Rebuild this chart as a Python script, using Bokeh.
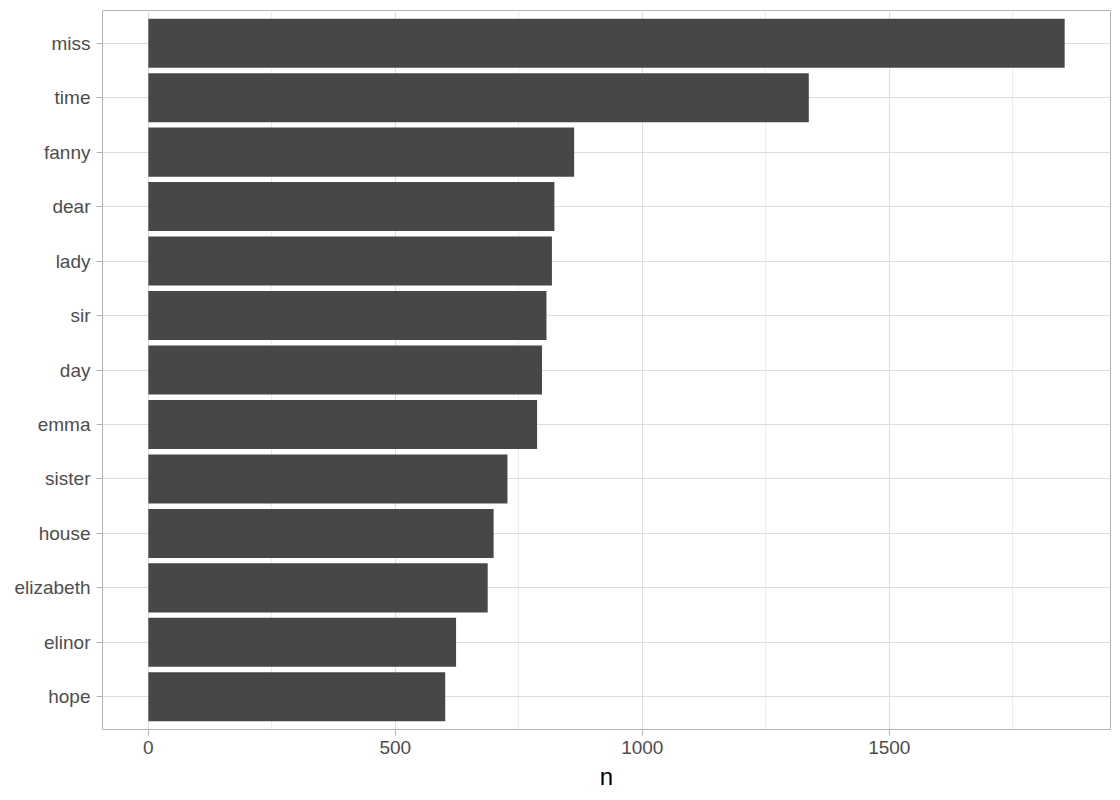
from bokeh.plotting import figure
from bokeh.models import FactorRange, Range1d, SingleIntervalTicker, ColumnDataSource
from bokeh.embed import file_html
from bokeh.resources import INLINE

words = ["hope", "elinor", "elizabeth", "house", "sister", "emma", "day",
         "sir", "lady", "dear", "fanny", "time", "miss"]
counts = [601, 623, 687, 699, 727, 787, 797, 806, 817, 822, 862, 1337, 1855]

src = ColumnDataSource(dict(word=words, n=counts))

p = figure(y_range=FactorRange(factors=words, range_padding=0.1, range_padding_units="absolute"),
           x_range=Range1d(-0.05 * max(counts), 1.05 * max(counts)),
           frame_width=1008, frame_height=719,
           min_border_left=102, min_border_top=10, min_border_right=2, min_border_bottom=63,
           output_backend="svg", toolbar_location=None)

p.hbar(y="word", right="n", left=0, height=0.9, source=src,
       fill_color="#474747", line_color=None)

p.xaxis.ticker = SingleIntervalTicker(interval=500, num_minor_ticks=2)
p.xaxis.axis_label = "n"

for ax in (p.xaxis, p.yaxis):
    ax.axis_line_color = None
    ax.major_tick_line_color = "#b3b3b3"
    ax.major_tick_out = 6
    ax.major_tick_in = 0
    ax.minor_tick_line_color = None
    ax.major_label_text_font = "Liberation Sans"
    ax.major_label_text_font_size = "19px"
    ax.major_label_text_color = "#4d4d4d"
    ax.axis_label_text_font = "Liberation Sans"
    ax.axis_label_text_font_size = "24px"
    ax.axis_label_text_font_style = "normal"
    ax.axis_label_text_color = "#000000"
p.xaxis.major_label_standoff = 5
p.yaxis.major_label_standoff = 6
p.xaxis.axis_label_standoff = 6

p.xgrid.grid_line_color = "#dedede"
p.xgrid.grid_line_width = 1
p.xgrid.minor_grid_line_color = "#ececec"
p.xgrid.minor_grid_line_width = 1
p.ygrid.grid_line_color = "#dedede"
p.ygrid.grid_line_width = 1

p.outline_line_color = "#b3b3b3"
p.outline_line_width = 1
p.background_fill_color = "white"
p.border_fill_color = "white"

open("out.html", "w").write(file_html(p, INLINE))
